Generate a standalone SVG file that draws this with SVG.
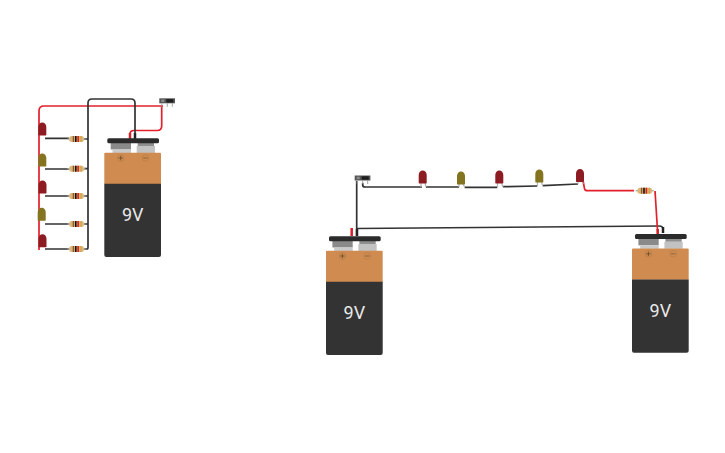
<svg xmlns="http://www.w3.org/2000/svg" xmlns:xlink="http://www.w3.org/1999/xlink" width="725" height="453" viewBox="0 0 725 453">
<style>
.wk{fill:none;stroke:#333;stroke-width:1.700;stroke-linejoin:round}
.wr{fill:none;stroke:#e2202c;stroke-width:1.700;stroke-linejoin:round}
.lead{fill:none;stroke:#b4b4b4;stroke-width:1.200}
.v{font-family:"Roboto","Open Sans",sans-serif;font-size:18px;fill:#e8e8e8;text-anchor:middle}
</style>
<defs>
<g id="bat">
<rect x="110.700" y="143" width="20.300" height="6.500" fill="#8a8a8a"/>
<rect x="112.500" y="149.500" width="18.500" height="3.500" fill="#c9c9c9"/>
<rect x="137.700" y="143" width="16.300" height="3" fill="#8f8f8f"/>
<rect x="136.700" y="146" width="18.300" height="7" fill="#c2c2c2"/>
<rect x="107.300" y="138.300" width="51.700" height="5" rx="1.500" fill="#2b2b2b"/>
<path d="M105.300 152.700H160a1 1 0 0 1 1 1V184H104.300V153.700a1 1 0 0 1 1-1z" fill="#d08c50"/>
<path d="M104.300 183.700H161V255a2 2 0 0 1-2 2H106.300a2 2 0 0 1-2-2z" fill="#333"/>
<circle cx="120.700" cy="158" r="3.300" fill="none" stroke="#b87b43" stroke-width=".7"/>
<path d="M118.500 158h4.400M120.700 155.800v4.400" stroke="#5f4a30" stroke-width=".8"/>
<circle cx="145.500" cy="158" r="3.300" fill="none" stroke="#b87b43" stroke-width=".7"/>
<path d="M143.300 158h4.400" stroke="#7a5c38" stroke-width=".8"/>
</g>
<g id="res">
<path d="M-9 0H9" stroke="#aaa" stroke-width="1.300"/>
<rect x="-7.300" y="-3" width="14.700" height="6" rx="2.500" fill="#dcb679"/>
<rect x="-3.800" y="-3" width="1.400" height="6" fill="#8a5a2b"/>
<rect x="-1.500" y="-3" width="1.600" height="6" fill="#111"/>
<rect x=".8" y="-3" width="1.700" height="6" fill="#e0261c"/>
<rect x="4" y="-3" width="1" height="6" fill="#c9a13f"/>
</g>
<g id="sw">
<rect x="0" y="0" width="15.700" height="5" fill="#555"/>
<rect x="7" y=".8" width="7" height="3.400" fill="#1f1f1f"/>
<rect x="2" y="1.200" width="3" height="2.600" fill="#8c8c8c"/>
<path d="M2.500 5V8.500M8 5V8.500M13 5V8.500" stroke="#999" stroke-width=".9"/>
</g>
<path id="ledr" d="M-4 5.500Q-4.500 6.500-3 6.500H3Q4.500 6.500 4 5.500V-2a4 4.500 0 0 0-8 0z" fill="#8c1c22"/>
<path id="ledy" d="M-4 5.500Q-4.500 6.500-3 6.500H3Q4.500 6.500 4 5.500V-2a4 4.500 0 0 0-8 0z" fill="#85741f"/>
</defs>

<g id="connectors">
<path class="wr" d="M163 106H44Q39 106 39 111V250"/>
<path class="wr" d="M161.700 106V126Q161.700 130.500 157 130.500H134Q130 130.500 130 134V140"/>
<path class="wk" d="M84 249H87Q88 249 88 247V103Q88 99 92 99H131Q135 99 135 103V140"/>
<path class="wk" d="M45 138.300H69M45 169H69M45 196H69M45 224H69M45 249H69"/>
<path class="wk" d="M84 139H88M84 168.700H88M84 196H88M84 224H88"/>
<path class="wk" d="M356.700 181V236"/>
<path class="wk" d="M356.700 228.500L659 226Q663 226 663 229V233"/>
<path class="wk" d="M362.700 183V185Q362.700 187 365 187H422"/>
<path class="wk" d="M426 187H459M464.700 187.300H497.300M503 186.700L537.300 186M542.700 185.700L578 184"/>
<path class="wr" d="M583.300 182L584.500 188.500Q585 190.700 587.500 190.700H634"/>
<path class="wr" d="M655 191L657.700 233"/>
<path d="M351.700 228V236" stroke="#d6202a" stroke-width="2.500"/>
<path d="M357 229V236" stroke="#222" stroke-width="2.500"/>
<path d="M657.700 229V234" stroke="#d6202a" stroke-width="2.500"/>
<path d="M663 227V233" stroke="#222" stroke-width="2.500"/>
<path d="M130 133V139" stroke="#d6202a" stroke-width="2.500"/>
<path d="M135 133V139" stroke="#222" stroke-width="2.500"/>
</g>

<g id="battery1"><use xlink:href="#bat" href="#bat"/><text class="v" x="132.700" y="221">9V</text></g>
<g id="battery2"><use xlink:href="#bat" href="#bat" x="221.700" y="98"/><text class="v" x="354.400" y="319">9V</text></g>
<g id="battery3"><use xlink:href="#bat" href="#bat" x="527.700" y="95.800"/><text class="v" x="660.400" y="317">9V</text></g>

<g id="switch1"><use xlink:href="#sw" href="#sw" x="159.300" y="98.300"/></g>
<g id="switch2"><use xlink:href="#sw" href="#sw" x="354.700" y="175.500"/></g>

<g id="led1"><use xlink:href="#ledr" href="#ledr" x="42.300" y="129"/></g>
<g id="led2"><use xlink:href="#ledy" href="#ledy" x="42.300" y="160"/></g>
<g id="led3"><use xlink:href="#ledr" href="#ledr" x="42.500" y="187"/></g>
<g id="led4"><use xlink:href="#ledy" href="#ledy" x="41.700" y="214.300"/></g>
<g id="led5"><use xlink:href="#ledr" href="#ledr" x="42.500" y="240.700"/></g>

<g id="res1"><use xlink:href="#res" href="#res" x="76.500" y="139"/></g>
<g id="res2"><use xlink:href="#res" href="#res" x="76.500" y="168.700"/></g>
<g id="res3"><use xlink:href="#res" href="#res" x="76.500" y="196"/></g>
<g id="res4"><use xlink:href="#res" href="#res" x="76.500" y="224"/></g>
<g id="res5"><use xlink:href="#res" href="#res" x="76.500" y="249"/></g>

<g id="led6"><path class="lead" d="M421 183V187M425 183L426 187"/><use xlink:href="#ledr" href="#ledr" x="422.700" y="177"/></g>
<g id="led7"><path class="lead" d="M459 184V187M463 184L464.700 187"/><use xlink:href="#ledy" href="#ledy" x="461" y="178"/></g>
<g id="led8"><path class="lead" d="M497.500 183V187M501.500 183L503 187"/><use xlink:href="#ledr" href="#ledr" x="499.300" y="177"/></g>
<g id="led9"><path class="lead" d="M537.500 182V186M541.500 182L542.700 186"/><use xlink:href="#ledy" href="#ledy" x="539.300" y="176"/></g>
<g id="led10"><path class="lead" d="M578 181.500V184M582 181.500L583.300 184"/><use xlink:href="#ledr" href="#ledr" x="580" y="175.500"/></g>
<g id="res6"><use xlink:href="#res" href="#res" x="644.700" y="190.700"/></g>
</svg>
